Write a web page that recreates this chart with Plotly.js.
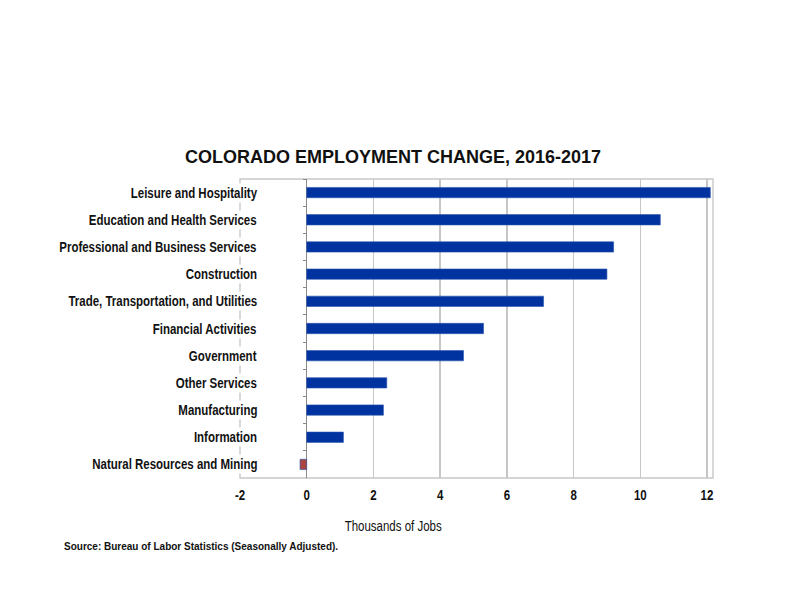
<!DOCTYPE html>
<html>
<head>
<meta charset="utf-8">
<script src="https://cdn.plot.ly/plotly-3.0.1.min.js"></script>
<style>
  html, body { margin: 0; padding: 0; background: #ffffff; }
  #chart { width: 786px; height: 607px; }
</style>
</head>
<body>
<div id="chart"></div>
<script>
// Industry sectors, top to bottom
const sectors = [
  "Leisure and Hospitality",
  "Education and Health Services",
  "Professional and Business Services",
  "Construction",
  "Trade, Transportation, and Utilities",
  "Financial Activities",
  "Government",
  "Other Services",
  "Manufacturing",
  "Information",
  "Natural Resources and Mining"
];

// Change in jobs, thousands
const jobChange = [12.1, 10.6, 9.2, 9.0, 7.1, 5.3, 4.7, 2.4, 2.3, 1.1, -0.2];

const xTickValues = [-2, 0, 2, 4, 6, 8, 10, 12];

const gainColor = "#0033A0";
const lossColor = "#A84442";
const sans = "Arial, 'Liberation Sans', sans-serif";

const barColors = jobChange.map(v => v < 0 ? lossColor : gainColor);

const bars = {
  type: "bar",
  orientation: "h",
  x: jobChange,
  y: sectors,
  width: 0.38,
  marker: {
    color: barColors,
    line: { color: "#2a55b0", width: 0.6 }
  },
  hoverinfo: "x+y"
};

const xMin = -2, xMax = 12.18;

// Category labels sit on white boxes, breaking the frame line behind them
const sectorLabels = sectors.map(s => ({
  xref: "paper", yref: "y",
  x: 0.04, y: s,
  xanchor: "right", yanchor: "middle",
  align: "right",
  text: "<b>" + s + "</b>",
  showarrow: false,
  bgcolor: "#ffffff",
  borderpad: 1,
  font: { family: sans, size: 14, color: "#111111" }
}));

const layout = {
  width: 786,
  height: 607,
  paper_bgcolor: "#ffffff",
  plot_bgcolor: "#ffffff",
  margin: { l: 240, r: 73, t: 179, b: 129 },
  showlegend: false,
  title: {
    text: "<b>COLORADO EMPLOYMENT CHANGE, 2016-2017</b>",
    font: { family: sans, size: 18, color: "#111111" },
    x: 0.5, xanchor: "center",
    y: 1 - 157 / 607, yanchor: "middle"
  },
  xaxis: {
    range: [xMin, xMax],
    tickvals: xTickValues,
    ticktext: xTickValues.map(v => "<b>" + v + "</b>"),
    tickfont: { family: sans, size: 14, color: "#111111" },
    ticks: "outside", ticklen: 4, tickcolor: "rgba(0,0,0,0)",
    showgrid: true, gridcolor: "#c6c6c6", gridwidth: 1.4,
    zeroline: true, zerolinecolor: "#8a8a8a", zerolinewidth: 1.4,
    showline: false
  },
  yaxis: {
    type: "category",
    categoryorder: "array",
    categoryarray: sectors,
    autorange: "reversed",
    anchor: "free",
    position: (0 - xMin) / (xMax - xMin),
    showticklabels: false,
    ticks: "outside", tickson: "boundaries",
    ticklen: 4, tickcolor: "#8a8a8a", tickwidth: 1,
    showline: false, showgrid: false, zeroline: false
  },
  shapes: [
    {
      type: "rect", xref: "paper", yref: "paper",
      x0: 0, x1: 1, y0: 0, y1: 1,
      line: { color: "#c8c8c8", width: 1.4 },
      layer: "below"
    }
  ],
  annotations: sectorLabels.concat([
    {
      // axis title, centred on the page
      xref: "paper", yref: "paper",
      x: (393 - 240) / 473, y: (478 - 526) / 299,
      xanchor: "center", yanchor: "middle",
      text: "Thousands of Jobs",
      showarrow: false,
      font: { family: sans, size: 14, color: "#111111" }
    },
    {
      xref: "paper", yref: "paper",
      x: (62 - 240) / 473, y: (478 - 546) / 299,
      xanchor: "left", yanchor: "middle",
      text: "<b>Source: Bureau of Labor Statistics (Seasonally Adjusted).</b>",
      showarrow: false,
      font: { family: sans, size: 10, color: "#111111" }
    }
  ])
};

// Narrow the sans glyphs to a condensed face for labels and ticks
function condenseText(t, factor) {
  const w = t.getComputedTextLength();
  if (w > 0) {
    t.setAttribute("textLength", (w * factor).toFixed(1));
    t.setAttribute("lengthAdjust", "spacingAndGlyphs");
  }
}

const gd = document.getElementById("chart");
Plotly.newPlot(gd, [bars], layout, { displayModeBar: false, staticPlot: true }).then(() => {
  const annTexts = gd.querySelectorAll(".annotation-text");
  annTexts.forEach((t, i) => {
    // sector labels plus the axis title
    if (i <= sectors.length) condenseText(t, 0.82);
  });
  gd.querySelectorAll(".xtick text").forEach(t => condenseText(t, 0.82));
});
</script>
</body>
</html>
